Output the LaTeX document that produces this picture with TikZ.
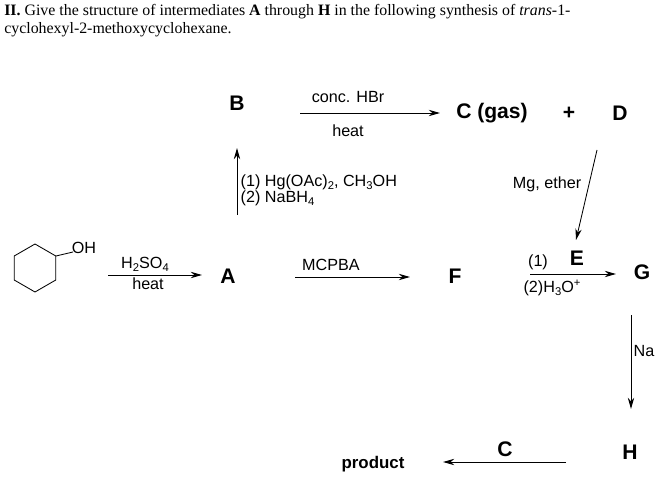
\documentclass[tikz,border=0pt]{standalone}
\usepackage{fontspec}
\setmainfont{Liberation Serif}
\setsansfont{Liberation Sans}
\usetikzlibrary{arrows.meta,calc}
\newcommand{\sbs}[1]{\raisebox{-0.35ex}{\footnotesize #1}}
\newcommand{\sps}[1]{\raisebox{0.7ex}{\footnotesize #1}}
\begin{document}
\begin{tikzpicture}[x=0.025cm,y=-0.025cm,
  lbl/.style={font=\sffamily\fontsize{11.5}{13}\selectfont,inner sep=1pt},
  big/.style={font=\sffamily\bfseries\fontsize{15}{17}\selectfont,inner sep=1pt},
  arr/.style={-{Stealth[length=8pt,width=4.5pt]},line width=0.6pt},
  ttl/.style={font=\fontsize{11.3}{13}\selectfont,anchor=west,inner sep=0pt}]
\useasboundingbox (0,0) rectangle (660,479);
\node[ttl] (t1) at (4,12) {\textbf{II.} Give the structure of intermediates \textbf{A} through \textbf{H} in the following synthesis of \textit{trans}-1-};
\node[ttl] (t2) at (4,30) {cyclohexyl-2-methoxycyclohexane.};
% top row
\node[big] (B) at (237,103) {B};
\coordinate (hb1) at (300,113); \coordinate (hb2) at (440,113);
\draw[arr] (hb1) -- (hb2);
\node[lbl] (hbr) at (348,97) {conc. HBr};
\node[lbl] (ht1) at (348,131) {heat};
\node[big] (C1) at (492,113) {C (gas)};
\node[big] (plus) at (569,113) {+};
\node[big] (D) at (620,113) {D};
% up arrow
\coordinate (u1) at (237,215); \coordinate (u2) at (237,148);
\draw[arr] (u1) -- (u2);
\node[lbl,anchor=west] (hg) at (239,182) {(1) Hg(OAc)\sbs{2}, CH\sbs{3}OH};
\node[lbl,anchor=west] (nb) at (239,198) {(2) NaBH\sbs{4}};
% Mg
\node[lbl] (mg) at (547,184) {Mg, ether};
\coordinate (m1) at (597,150); \coordinate (m2) at (576,240);
\draw[arr] (m1) -- (m2);
% cyclohexanol
\draw[line width=0.6pt] (35,268) ++(30:24) -- ++(150:24) -- ++(210:24) -- ++(270:24) -- ++(330:24) -- ++(30:24) -- cycle;
\coordinate (oh) at (73,252);
\draw[line width=0.6pt] (56,256) -- (oh);
\node[lbl] (OH) at (84,248) {OH};
\node[lbl] (h2) at (145,264) {H\sbs{2}SO\sbs{4}};
\node[lbl] (ht2) at (148,284) {heat};
\coordinate (a1) at (108,275); \coordinate (a2) at (202,275);
\draw[arr] (a1) -- (a2);
\node[big] (A) at (228,276) {A};
\node[lbl] (mc) at (331,265) {MCPBA};
\coordinate (f1) at (295,277); \coordinate (f2) at (410,277);
\draw[arr] (f1) -- (f2);
\node[big] (F) at (455,276) {F};
\node[lbl] (one) at (538,262) {(1)};
\node[big] (E) at (577,258) {E};
\coordinate (e1) at (530,274); \coordinate (e2) at (616,274);
\draw[arr] (e1) -- (e2);
\node[lbl] (h3o) at (552,288) {(2)H\sbs{3}O\sps{+}};
\node[big] (G) at (642,272) {G};
% down
\coordinate (d1) at (631,315); \coordinate (d2) at (631,409);
\draw[arr] (d1) -- (d2);
\node[lbl,anchor=west] (na) at (632,351) {Na};
\node[big] (H) at (630,452) {H};
\node[big] (C2) at (505,449) {C};
\coordinate (p1) at (566,462); \coordinate (p2) at (443,462);
\draw[arr] (p1) -- (p2);
\node[lbl,font=\sffamily\bfseries\fontsize{12}{14}\selectfont] (prod) at (373,464) {product};
\end{tikzpicture}
\end{document}
